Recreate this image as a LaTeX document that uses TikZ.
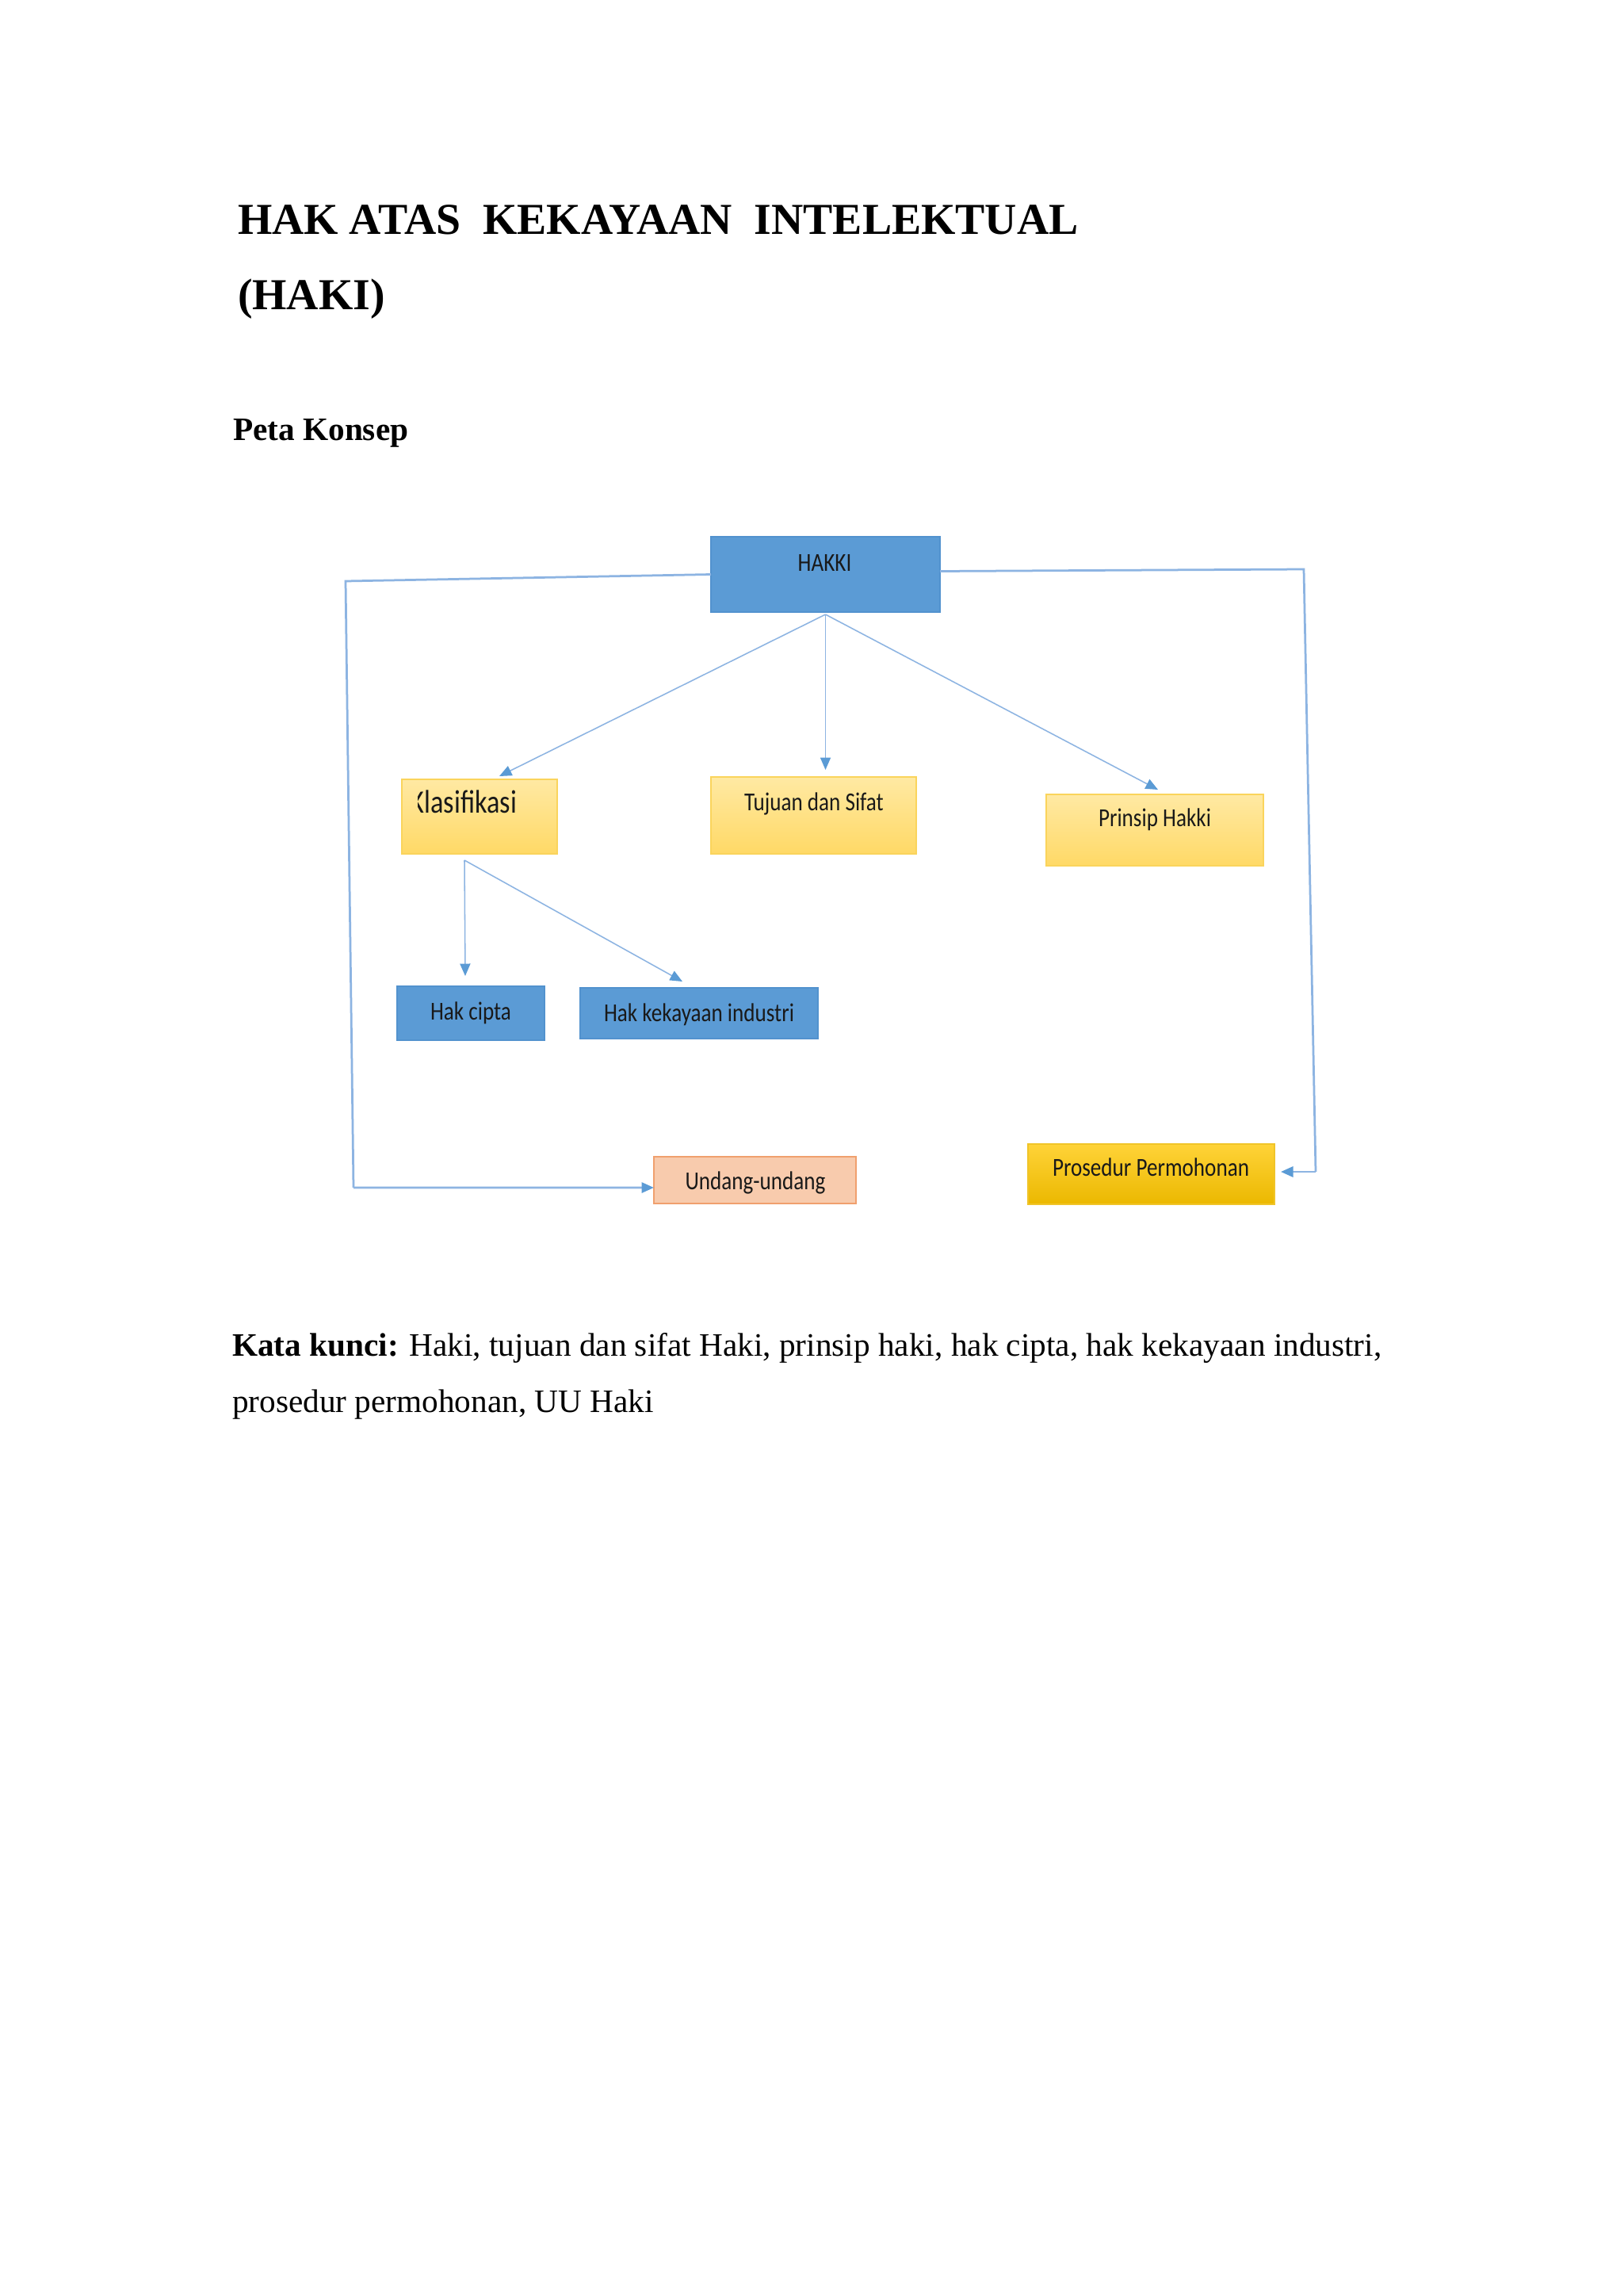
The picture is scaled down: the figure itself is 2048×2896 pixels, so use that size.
\documentclass[tikz,border=0pt]{standalone}
\usepackage{fontspec}
\setmainfont{Liberation Serif}
\newfontfamily\diagfont[FakeStretch=0.83]{Carlito}
\usetikzlibrary{arrows.meta,calc}
\definecolor{officeblue}{RGB}{91,155,213}
\definecolor{officebluedark}{RGB}{82,146,206}
\definecolor{linkblue}{RGB}{141,180,226}
\definecolor{yellowtop}{RGB}{255,233,163}
\definecolor{yellowbot}{RGB}{255,217,102}
\definecolor{yellowedge}{RGB}{250,212,92}
\definecolor{goldtop}{RGB}{255,211,56}
\definecolor{goldbot}{RGB}{235,184,0}
\definecolor{goldedge}{RGB}{240,196,40}
\definecolor{peachfill}{RGB}{248,203,173}
\definecolor{peachedge}{RGB}{240,160,110}
\definecolor{boxtext}{RGB}{25,25,25}
\def\px{0.29066pt}
\tikzset{
  boxbase/.style={rectangle, inner sep=0pt, outer sep=0pt, line width=0.45pt},
  bluebox/.style={boxbase, fill=officeblue, draw=officebluedark},
  yellowbox/.style={boxbase, top color=yellowtop, bottom color=yellowbot, draw=yellowedge},
  goldbox/.style={boxbase, top color=goldtop, bottom color=goldbot, draw=goldedge},
  peachbox/.style={boxbase, fill=peachfill, draw=peachedge, line width=0.6pt},
  boxlabel/.style={inner sep=0pt, outer sep=0pt, text=boxtext, font=\diagfont\fontsize{9.5}{11}\selectfont},
  link/.style={draw=linkblue, line width=0.45pt, -{Triangle[length=4.5pt,width=3.8pt,color=officeblue]}},
  looplink/.style={draw=linkblue, line width=0.8pt},
  looparrow/.style={draw=linkblue, line width=0.8pt, -{Triangle[length=4.5pt,width=3.8pt,color=officeblue]}},
  serifline/.style={inner sep=0pt, outer sep=0pt, anchor=base west}
}
\begin{document}
\begin{tikzpicture}[x=0.29066pt, y=-0.29066pt]
\useasboundingbox[fill=white] (0,0) rectangle (2048,2896);

% page texts
\node[serifline, font=\fontsize{16.2}{19}\selectfont\bfseries] (title1) at (300,295) {HAK ATAS\ \ KEKAYAAN\ \ INTELEKTUAL};
\node[serifline, font=\fontsize{16.2}{19}\selectfont\bfseries] (title2) at (300,390) {(HAKI)};
\node[serifline, font=\fontsize{12}{14}\selectfont\bfseries] (peta) at (294,555) {Peta Konsep};
\node[serifline, font=\fontsize{12}{14}\selectfont] (kata1) at (293,1710) {\textbf{Kata kunci:} Haki, tujuan dan sifat Haki, prinsip haki, hak cipta, hak kekayaan industri,};
\node[serifline, font=\fontsize{12}{14}\selectfont] (kata2) at (293,1781) {prosedur permohonan, UU Haki};

% boxes
\node[bluebox, minimum width=289*\px, minimum height=95*\px] (hakki) at (1041.5,724.5) {};
\node[yellowbox, minimum width=196*\px, minimum height=94*\px] (klas) at (605,1030) {};
\node[yellowbox, minimum width=259*\px, minimum height=97*\px] (tujuan) at (1026.5,1028.5) {};
\node[yellowbox, minimum width=274*\px, minimum height=90*\px] (prinsip) at (1457,1047) {};
\node[bluebox, minimum width=186*\px, minimum height=68*\px] (cipta) at (594,1278) {};
\node[bluebox, minimum width=300*\px, minimum height=64*\px] (industri) at (882,1278) {};
\node[peachbox, minimum width=255*\px, minimum height=59*\px] (uu) at (952.5,1488.5) {};
\node[goldbox, minimum width=311*\px, minimum height=76*\px] (prosedur) at (1452.5,1481) {};

% box labels
\node[boxlabel, anchor=base] (hakkit) at (1040.5,720) {HAKKI};
\begin{scope}
  \clip (527,990) rectangle (700,1040);
  \node[boxlabel, anchor=base east, font=\diagfont\fontsize{12}{14}\selectfont] (klast) at (652,1025) {Klasifikasi};
\end{scope}
\node[boxlabel, anchor=base] (tujuant) at (1027,1022) {Tujuan dan Sifat};
\node[boxlabel, anchor=base] (prinsipt) at (1457,1042) {Prinsip Hakki};
\node[boxlabel, anchor=base] (ciptat) at (594,1286) {Hak cipta};
\node[boxlabel, anchor=base] (industrit) at (882,1288) {Hak kekayaan industri};
\node[boxlabel, anchor=base] (uut) at (953,1500) {Undang-undang};
\node[boxlabel, anchor=base] (prosedurt) at (1452,1483) {Prosedur Permohonan};

% connectors from HAKKI
\coordinate (hs) at ($(hakki.south)+(0,3)$);
\draw[link] (hs) -- ($(klas.north)+(25,-4)$);
\draw[link] (hs) -- ($(hs |- tujuan.north)+(0,-9)$);
\draw[link] (hs) -- ($(prinsip.north)+(4,-6)$);

% connectors from Klasifikasi
\coordinate (ks) at ($(klas.south)+(-19,8)$);
\draw[link] (ks) -- ($(cipta.north)+(-7,-13)$);
\draw[link] (ks) -- ($(industri.north)+(-21,-8)$);

% loops
\coordinate (lt) at (436,733);
\coordinate (lb) at (446,1498);
\draw[looplink] (hakki.west) -- (lt) -- (lb);
\draw[looparrow] (lb) -- ($(uu.west)+(0,9.5)$);

\coordinate (rt) at (1645,718);
\coordinate (rb) at (1660,1478);
\draw[looplink] ($(hakki.east)+(0,-4)$) -- (rt) -- (rb);
\draw[looparrow] (rb) -- ($(prosedur.east)+(8,-3)$);
\end{tikzpicture}
\end{document}
